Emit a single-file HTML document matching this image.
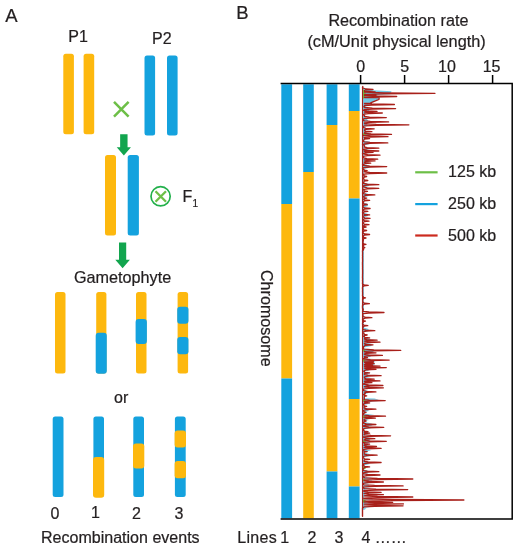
<!DOCTYPE html>
<html><head><meta charset="utf-8"><title>Recombination figure</title>
<style>
html,body{margin:0;padding:0;background:#fff;}
svg{display:block;font-family:"Liberation Sans",Arial,sans-serif;fill:#231f20;}
text{stroke:#231f20;stroke-width:0.22px;}
</style></head>
<body>
<svg width="519" height="550" viewBox="0 0 519 550">
<rect x="0" y="0" width="519" height="550" fill="#fff"/>
<text x="5.2" y="21.6" font-size="18.5">A</text>
<text x="68.3" y="41.6" font-size="16">P1</text>
<text x="152" y="43.7" font-size="16">P2</text>
<rect x="63.3" y="53.8" width="10.6" height="80.4" rx="2.5" ry="2.5" fill="#fdb80e"/>
<rect x="83.6" y="53.8" width="10.6" height="80.4" rx="2.5" ry="2.5" fill="#fdb80e"/>
<rect x="144.5" y="55.6" width="10.6" height="80" rx="2.5" ry="2.5" fill="#14a2de"/>
<rect x="167" y="55.6" width="10.6" height="80" rx="2.5" ry="2.5" fill="#14a2de"/>
<path d="M114.0 101.8 L128.6 116.6 M128.6 101.8 L114.0 116.6" stroke="#6dbf47" stroke-width="2.5" fill="none"/>
<path d="M120.14999999999999 134.2 H127.55 V147.2 H130.95 L123.85 155.6 L116.75 147.2 H120.14999999999999 Z" fill="#12a54e"/>
<rect x="105" y="155" width="11" height="80.4" rx="2.5" ry="2.5" fill="#fdb80e"/>
<rect x="127.7" y="155" width="11.2" height="80.4" rx="2.5" ry="2.5" fill="#14a2de"/>
<circle cx="160.6" cy="196.3" r="9.6" fill="none" stroke="#22b04b" stroke-width="1.7"/>
<path d="M155.5 191.2 L166 201.8 M166 191.2 L155.5 201.8" stroke="#6dbf47" stroke-width="2.3" fill="none"/>
<text x="182.6" y="201.6" font-size="16">F</text>
<text x="192.6" y="207" font-size="10">1</text>
<path d="M119.0 242.4 H126.19999999999999 V259.8 H129.9 L122.6 268.3 L115.3 259.8 H119.0 Z" fill="#12a54e"/>
<text x="74" y="283.1" font-size="16.2">Gametophyte</text>
<rect x="55" y="292" width="10.5" height="81.5" rx="2.5" ry="2.5" fill="#fdb80e"/>
<rect x="96.2" y="292" width="10.2" height="81.5" rx="2.5" ry="2.5" fill="#fdb80e"/>
<rect x="95.7" y="332.7" width="11.1" height="41" rx="3" ry="3" fill="#14a2de"/>
<rect x="136" y="292" width="10.5" height="81.5" rx="2.5" ry="2.5" fill="#fdb80e"/>
<rect x="135.6" y="319" width="11.3" height="25" rx="3" ry="3" fill="#14a2de"/>
<rect x="177.6" y="292" width="10.5" height="81.5" rx="2.5" ry="2.5" fill="#fdb80e"/>
<rect x="177.2" y="306.8" width="11.3" height="16.9" rx="3" ry="3" fill="#14a2de"/>
<rect x="177.2" y="337" width="11.3" height="17.2" rx="3" ry="3" fill="#14a2de"/>
<text x="114" y="402.8" font-size="16">or</text>
<rect x="52.7" y="416.6" width="10.8" height="80.4" rx="2.5" ry="2.5" fill="#14a2de"/>
<rect x="93.4" y="416.6" width="10.6" height="80.4" rx="2.5" ry="2.5" fill="#14a2de"/>
<rect x="93.0" y="457" width="11.2" height="40.7" rx="3" ry="3" fill="#fdb80e"/>
<rect x="133.3" y="416.6" width="10.7" height="80.4" rx="2.5" ry="2.5" fill="#14a2de"/>
<rect x="133.0" y="443.6" width="11.3" height="25" rx="3" ry="3" fill="#fdb80e"/>
<rect x="174.9" y="416.6" width="10.8" height="80.4" rx="2.5" ry="2.5" fill="#14a2de"/>
<rect x="174.6" y="430.5" width="11.4" height="16.9" rx="3" ry="3" fill="#fdb80e"/>
<rect x="174.6" y="460.9" width="11.4" height="17.4" rx="3" ry="3" fill="#fdb80e"/>
<text x="50.6" y="519.1" font-size="16">0</text>
<text x="91" y="517.7" font-size="16">1</text>
<text x="131.9" y="518.5" font-size="16">2</text>
<text x="174.6" y="518.5" font-size="16">3</text>
<text x="41" y="543" font-size="16.05">Recombination events</text>
<text x="236.3" y="19.3" font-size="18.5">B</text>
<text x="398.4" y="26.2" font-size="16.15" text-anchor="middle">Recombination rate</text>
<text x="396.6" y="46.9" font-size="16.3" text-anchor="middle">(cM/Unit physical length)</text>
<text x="360.6" y="72.2" font-size="16" text-anchor="middle">0</text>
<text x="404.6" y="72.2" font-size="16" text-anchor="middle">5</text>
<text x="447" y="72.2" font-size="16" text-anchor="middle">10</text>
<text x="491.6" y="72.2" font-size="16" text-anchor="middle">15</text>
<rect x="281.3" y="84.3" width="10.8" height="119.7" fill="#14a2de"/><rect x="281.3" y="204" width="10.8" height="174.5" fill="#fdb80e"/><rect x="281.3" y="378.5" width="10.8" height="139.79999999999995" fill="#14a2de"/>
<rect x="303.2" y="84.3" width="10.6" height="87.7" fill="#14a2de"/><rect x="303.2" y="172" width="10.6" height="346.29999999999995" fill="#fdb80e"/>
<rect x="326.6" y="84.3" width="10.8" height="40.7" fill="#14a2de"/><rect x="326.6" y="125" width="10.8" height="346.5" fill="#fdb80e"/><rect x="326.6" y="471.5" width="10.8" height="46.799999999999955" fill="#14a2de"/>
<rect x="348.8" y="84.3" width="10.8" height="26.700000000000003" fill="#14a2de"/><rect x="348.8" y="111" width="10.8" height="87.5" fill="#fdb80e"/><rect x="348.8" y="198.5" width="10.8" height="200.5" fill="#14a2de"/><rect x="348.8" y="399" width="10.8" height="87.5" fill="#fdb80e"/><rect x="348.8" y="486.5" width="10.8" height="31.799999999999955" fill="#14a2de"/>
<polygon points="362.4,86.5 362.6,87.8 373.0,90.2 391.5,91.2 390.4,94.2 376.0,95.0 379.5,96.5 378.5,99.6 374.5,101.0 369.4,103.8 365.5,106.9 369.6,109.2 369.0,111.0 365.5,113.2 364.0,115.5 368.4,120.7 364.5,122.0 368.4,125.4 364.0,127.0 367.2,133.4 372.0,134.6 364.0,135.8 363.9,140.4 369.5,141.8 369.5,144.0 363.9,145.4 363.9,148.5 369.5,149.9 369.5,152.1 363.9,153.5 363.9,158.5 369.5,159.9 369.5,162.1 363.9,163.5 363.9,164.1 369.5,165.5 369.5,167.7 363.9,169.1 363.9,182.5 369.0,183.9 369.0,186.1 363.9,187.5 363.9,192.5 368.5,193.9 368.5,196.1 363.9,197.5 363.9,202.5 368.0,203.9 368.0,206.1 363.9,207.5 363.9,212.5 368.0,213.9 368.0,216.1 363.9,217.5 363.9,327.5 368.5,328.9 368.5,331.1 363.9,332.5 363.9,337.5 370.5,338.9 370.5,341.1 363.9,342.5 363.9,342.5 371.5,343.9 371.5,346.1 363.9,347.5 363.9,348.5 373.5,349.9 373.5,352.1 363.9,353.5 363.9,353.5 370.5,354.9 370.5,357.1 363.9,357.5 363.9,358.5 374.0,358.9 363.9,359.0 375.0,360.4 363.9,360.5 374.0,361.1 375.0,361.9 363.9,362.0 363.9,362.5 375.0,362.6 374.5,363.4 363.9,363.5 363.9,364.0 375.0,364.1 373.5,364.9 363.9,365.5 374.5,365.6 363.9,367.0 373.5,367.1 363.9,367.5 363.9,368.5 368.5,368.9 368.5,371.1 363.9,371.5 363.9,372.5 370.5,372.9 363.9,374.5 370.5,375.1 370.9,375.9 363.9,376.5 370.9,378.1 363.9,378.5 363.9,379.5 371.5,379.9 371.5,382.1 363.9,383.5 363.9,383.5 370.0,384.9 370.0,387.1 363.9,388.5 363.9,389.5 368.5,390.9 368.5,393.1 363.9,394.5 363.9,397.0 363.9,398.3 374.5,398.4 379.0,399.7 363.9,400.0 374.5,400.6 370.5,401.4 379.0,401.9 363.9,402.0 363.9,403.3 370.5,403.6 363.9,405.0 363.9,407.5 368.5,408.9 368.5,411.1 363.9,412.5 363.9,413.5 374.5,414.9 363.9,416.5 374.5,417.1 369.0,417.9 363.9,418.5 369.0,420.1 363.9,421.5 363.9,422.0 372.5,423.4 363.9,424.5 372.5,425.6 371.5,425.9 363.9,427.0 371.5,428.1 363.9,429.5 363.9,430.5 368.5,431.9 368.5,434.1 363.9,435.5 363.9,435.5 369.5,436.9 363.9,439.0 369.5,439.1 370.5,440.4 363.9,440.5 370.5,442.6 363.9,444.0 363.9,444.5 370.5,445.9 363.9,447.0 370.5,448.1 371.5,448.4 363.9,449.5 371.5,450.6 363.9,452.0 363.9,452.5 369.5,453.9 369.5,456.1 363.9,457.5 363.9,460.5 369.5,461.9 369.5,464.1 363.9,465.5 363.9,469.5 368.5,470.9 368.5,473.1 363.9,474.5 363.9,476.5 372.1,477.9 363.9,479.0 372.1,480.1 372.1,480.4 363.9,481.0 363.9,481.5 368.5,482.4 372.1,482.6 363.9,484.0 363.9,484.5 368.5,484.6 370.0,485.9 363.9,486.0 363.9,487.0 370.0,488.1 370.5,488.4 363.9,489.5 370.5,490.6 363.9,491.5 363.9,492.0 369.0,492.9 363.9,494.5 369.0,495.1 370.5,495.9 363.9,496.5 363.9,498.0 370.5,498.1 373.2,499.4 363.9,499.5 363.9,500.5 373.2,501.6 373.2,501.9 363.9,503.0 363.9,503.0 373.2,504.1 373.2,504.4 363.9,505.0 363.9,505.5 366.5,506.4 373.2,506.6 363.9,508.0 366.5,508.6 363.9,510.0 362.4,509.0" fill="#74c8e3"/>
<path d="M362.4 88 L365.59999999999997 92.2 L365.59999999999997 95.8 L362.4 100 Z" fill="#6dbf47"/>
<path d="M362.4 133.0 L366.4 133.83999999999997 L366.4 134.56 L362.4 135.39999999999998 Z" fill="#6dbf47"/>
<path d="M362.4 359.0 L365.4 360.05 L365.4 360.95 L362.4 362.0 Z" fill="#6dbf47"/>
<path d="M362.4 415.7 L366.9 416.61 L366.9 417.39 L362.4 418.3 Z" fill="#6dbf47"/>
<path d="M362.4 440.3 L365.9 441.14 L365.9 441.86 L362.4 442.7 Z" fill="#6dbf47"/>
<path d="M362.4 466 L365.9 467.4 L365.9 468.6 L362.4 470 Z" fill="#6dbf47"/>
<path d="M362.4 349.3 L365.4 350.14 L365.4 350.86 L362.4 351.7 Z" fill="#6dbf47"/>
<path d="M362.4 399.3 L365.9 400.14 L365.9 400.86 L362.4 401.7 Z" fill="#6dbf47"/>
<path d="M362.4 478.5 L365.4 479.55 L365.4 480.45 L362.4 481.5 Z" fill="#6dbf47"/>
<path d="M362.4 499 L365.9 500.4 L365.9 501.6 L362.4 503 Z" fill="#6dbf47"/>
<polyline points="362.9,86.0 362.5,87.8 364.5,88.5 365.6,89.0 373.0,89.5 365.6,90.0 364.5,90.5 364.5,91.4 375.1,91.9 364.5,92.2 384.2,92.8 435.0,93.3 384.2,93.8 364.5,94.3 375.9,95.0 364.5,95.5 372.7,96.0 396.7,96.5 372.7,97.0 364.5,97.5 379.2,97.7 379.1,98.6 378.9,99.5 376.6,100.4 374.2,101.3 372.3,102.2 370.3,103.1 364.5,103.5 372.0,104.0 394.4,104.5 372.0,105.0 364.5,105.5 364.5,105.8 363.9,106.7 364.5,107.5 372.4,108.1 395.6,108.6 372.4,109.1 364.5,109.6 363.6,110.3 364.5,110.4 366.8,110.9 377.0,111.4 366.8,111.9 364.5,112.0 368.4,112.5 382.3,113.0 368.4,113.5 364.5,114.0 363.3,114.8 364.7,115.7 364.5,116.5 369.6,117.1 386.3,117.6 369.6,118.1 364.5,118.6 362.6,119.3 362.7,120.2 364.5,120.9 370.3,121.4 388.6,121.9 370.3,122.4 364.5,123.0 364.5,123.8 376.3,124.3 408.9,124.8 376.3,125.3 364.5,125.8 363.3,126.5 363.2,127.4 364.5,127.8 365.9,128.3 374.2,128.8 365.9,129.3 364.5,129.9 365.1,130.1 364.5,130.6 365.2,131.2 371.9,131.7 365.2,132.2 364.5,132.8 364.9,132.8 364.5,133.3 371.1,133.9 391.5,134.4 371.1,134.9 364.5,135.5 362.7,135.5 364.1,135.6 370.1,136.2 388.0,136.7 370.1,137.2 364.1,137.4 364.6,138.0 369.6,138.5 364.6,139.0 364.1,139.6 363.9,140.0 362.7,140.9 364.2,141.8 364.1,141.8 370.0,142.4 387.8,142.9 370.0,143.4 364.1,144.0 362.5,144.5 364.3,145.4 364.7,146.3 364.1,147.0 367.3,147.6 378.8,148.1 367.3,148.6 364.1,149.2 362.7,149.9 364.1,149.9 367.3,150.5 378.8,151.0 364.1,151.3 365.6,151.9 373.0,152.4 365.6,152.9 364.1,153.5 362.5,153.5 364.1,154.0 367.7,154.6 380.0,155.1 367.7,155.6 364.1,156.2 363.9,156.2 363.0,157.1 364.3,158.0 364.1,158.0 367.0,158.6 377.7,159.1 367.0,159.6 364.1,159.8 366.2,160.4 375.0,160.9 366.2,161.4 364.1,162.0 364.1,162.1 364.9,162.7 370.7,163.2 364.9,163.7 364.1,164.2 362.5,164.3 362.7,165.2 364.1,165.5 369.7,166.1 386.7,166.6 369.7,167.1 364.1,167.7 362.7,167.9 362.5,168.8 364.1,169.6 364.1,170.2 367.2,170.7 364.1,171.2 364.1,171.8 364.1,171.9 369.7,172.5 386.7,173.0 369.7,173.5 364.1,174.1 363.2,174.2 363.4,175.1 364.1,175.4 364.1,176.0 366.7,176.5 364.1,177.0 364.1,177.6 363.5,177.8 363.6,178.7 364.1,179.4 364.1,180.0 367.8,180.5 364.1,181.0 364.1,181.6 363.9,182.3 362.8,183.2 364.1,183.5 367.3,184.1 378.8,184.6 367.3,185.1 364.1,185.7 363.4,185.9 363.4,186.8 364.1,187.2 367.3,187.8 378.8,188.3 367.3,188.8 364.1,189.4 363.5,189.5 364.1,190.3 364.1,190.9 367.5,191.4 364.1,191.9 364.1,192.5 362.5,193.1 364.1,193.8 366.1,194.4 374.8,194.9 366.1,195.4 364.1,196.0 363.0,196.7 364.1,197.0 364.1,197.6 366.7,198.1 364.1,198.6 364.1,199.2 363.6,199.3 364.6,199.9 369.6,200.4 364.6,200.9 363.6,201.5 363.6,202.1 362.7,203.0 363.6,203.4 363.8,204.0 367.2,204.5 363.8,205.0 363.6,205.6 362.7,205.7 362.8,206.6 363.6,207.4 364.7,208.0 370.1,208.5 364.7,209.0 363.6,209.6 362.7,210.2 363.6,210.3 364.0,210.9 367.8,211.4 364.0,211.9 363.6,212.5 362.5,212.9 363.0,213.8 363.6,213.8 364.6,214.4 369.6,214.9 364.6,215.4 363.6,216.0 362.6,216.5 363.6,217.2 364.7,217.8 370.1,218.3 364.7,218.8 363.6,219.4 362.9,220.1 363.6,220.1 364.4,220.7 369.0,221.2 364.4,221.7 363.6,222.2 362.7,222.8 363.6,223.6 364.4,224.2 369.0,224.7 364.4,225.2 363.6,225.8 363.6,225.9 363.6,226.5 366.1,227.0 363.6,227.5 363.6,228.1 362.8,228.2 363.2,229.1 363.6,229.4 363.7,230.0 366.7,230.5 363.7,231.0 363.6,231.6 362.6,231.8 362.6,232.7 363.6,233.4 364.6,234.0 369.6,234.5 364.6,235.0 363.6,235.6 363.4,236.3 363.6,236.9 363.6,237.5 366.0,238.0 363.6,238.5 363.6,239.1 363.1,239.9 363.4,240.8 362.8,241.7 362.6,242.6 363.6,243.3 363.6,243.9 366.0,244.4 363.6,244.9 363.6,245.5 362.8,246.2 363.6,246.5 363.6,247.1 364.8,247.6 363.6,248.1 363.6,248.7 362.8,248.9 363.6,249.8 362.5,250.7 362.5,251.6 362.6,252.5 362.6,253.4 362.6,254.3 362.5,255.2 362.6,256.1 362.6,257.0 362.5,257.9 362.6,258.8 362.6,259.7 362.6,260.6 362.6,261.5 362.5,262.4 362.5,263.3 362.5,264.2 362.5,265.1 362.6,266.0 362.5,266.9 362.6,267.8 362.5,268.7 362.6,269.6 362.6,270.5 362.6,271.4 362.6,272.3 362.6,273.2 362.6,274.1 362.5,275.0 362.6,275.9 362.5,276.8 362.5,277.7 362.6,278.6 362.6,279.5 362.5,280.4 362.6,281.3 362.6,282.2 362.5,283.1 362.5,284.0 363.1,284.3 364.1,284.9 368.2,285.4 364.1,285.9 363.1,286.4 362.6,286.7 362.5,287.6 362.5,288.5 362.6,289.4 362.6,290.3 362.5,291.2 362.6,292.1 362.6,293.0 362.6,293.9 362.6,294.8 362.5,295.7 362.9,296.6 363.4,296.8 363.4,297.3 365.5,297.8 363.4,298.3 363.4,298.9 362.6,299.3 362.6,300.2 362.8,301.1 362.7,302.0 363.4,302.6 364.5,303.2 369.4,303.7 364.5,304.2 363.4,304.8 362.5,305.6 362.5,306.5 362.5,307.4 362.5,308.3 363.3,309.2 363.1,310.1 362.5,311.0 363.4,311.4 368.9,312.0 384.0,312.5 368.9,313.0 363.4,313.6 362.7,313.7 362.7,314.6 362.9,315.5 362.9,316.4 363.4,316.6 365.2,317.2 371.9,317.7 365.2,318.2 363.4,318.8 362.7,319.1 362.5,320.0 363.4,320.1 363.4,320.6 365.5,321.1 363.4,321.6 363.4,322.2 362.7,322.7 362.5,323.6 362.6,324.5 363.4,324.6 364.0,325.2 367.8,325.7 364.0,326.2 363.4,326.8 363.1,327.2 362.7,328.1 363.1,329.0 363.4,329.6 366.1,330.2 374.8,330.7 366.1,331.2 363.4,331.8 362.8,332.6 363.0,333.5 364.4,333.9 364.4,334.5 367.2,335.0 364.4,335.5 364.4,336.1 363.4,336.2 364.4,336.8 364.6,337.4 369.6,337.9 364.6,338.4 364.4,338.9 364.4,339.1 366.8,339.7 377.1,340.2 366.8,340.7 364.4,341.1 367.7,341.7 380.0,342.2 367.7,342.7 364.4,343.2 365.1,343.4 364.4,343.8 365.6,344.3 373.0,344.8 365.6,345.3 364.4,345.9 364.5,346.1 362.9,347.0 363.5,347.9 362.6,348.8 364.4,349.2 373.9,349.8 400.8,350.3 373.9,350.8 364.4,351.4 364.9,351.5 364.4,351.8 366.5,352.3 376.0,352.8 366.5,353.3 364.4,353.9 364.3,354.2 364.4,354.3 368.4,354.9 382.4,355.4 368.4,355.9 364.4,356.4 364.4,356.6 364.4,357.1 367.5,357.6 364.4,358.1 364.4,358.7 362.7,358.7 364.4,359.1 370.4,359.6 389.2,360.1 370.4,360.6 364.4,361.2 373.3,361.4 373.3,362.3 364.4,362.6 365.9,363.1 374.2,363.6 365.9,364.1 364.4,364.7 372.5,365.0 364.4,365.1 367.7,365.7 380.0,366.2 364.4,366.6 369.6,367.1 386.3,367.6 369.6,368.1 364.4,368.2 366.5,368.8 376.0,369.3 366.5,369.8 364.4,370.4 365.1,370.4 363.8,371.3 364.4,371.8 364.6,372.3 369.6,372.8 364.6,373.3 364.4,373.9 364.4,374.0 364.4,374.6 368.0,375.2 381.1,375.7 368.0,376.2 364.4,376.8 364.4,377.6 364.4,378.1 365.9,378.7 374.2,379.2 365.9,379.7 364.4,379.8 367.7,380.4 380.0,380.9 367.7,381.4 364.4,381.6 365.2,382.1 371.9,382.6 365.2,383.1 364.4,383.7 362.8,383.9 364.4,384.4 368.5,385.0 382.9,385.5 368.5,386.0 364.4,386.6 364.4,386.6 364.4,386.8 368.7,387.3 383.4,387.8 368.7,388.3 364.4,388.9 363.3,389.3 363.1,390.2 364.4,390.8 366.4,391.4 375.9,391.9 366.4,392.4 364.4,392.9 365.2,393.8 363.3,394.7 364.4,394.8 364.4,395.4 366.7,395.9 364.4,396.4 364.4,396.9 364.2,397.4 364.4,398.3 364.1,399.2 364.1,399.6 369.2,400.1 385.2,400.6 369.2,401.1 364.1,401.7 364.1,401.8 364.6,402.4 369.6,402.9 364.6,403.4 364.1,403.9 362.6,404.6 364.1,405.2 364.1,405.8 366.7,406.3 364.1,406.8 364.1,407.4 364.1,408.1 366.4,408.7 375.9,409.2 366.4,409.7 364.1,410.2 362.8,410.9 364.1,411.3 364.1,411.9 366.1,412.4 364.1,412.9 364.1,413.4 362.9,413.6 362.8,414.5 364.1,415.1 369.3,415.7 385.5,416.2 369.3,416.7 364.1,417.1 366.3,417.6 375.3,418.1 366.3,418.6 364.1,419.2 364.3,419.9 364.1,419.9 364.1,420.5 366.1,421.0 364.1,421.5 364.1,422.1 362.8,422.6 364.1,423.4 366.4,424.0 375.9,424.5 366.4,425.0 364.1,425.6 362.7,426.2 364.1,426.3 368.8,426.9 383.7,427.4 368.8,427.9 364.1,428.4 364.0,428.9 362.6,429.8 364.1,430.6 364.1,431.1 368.0,431.6 364.1,432.1 364.1,432.1 364.6,432.7 369.6,433.2 364.6,433.7 364.1,434.2 364.2,434.3 364.1,434.8 370.9,435.3 390.6,435.8 370.9,436.3 364.1,436.9 363.3,437.0 364.1,437.6 366.1,438.2 374.8,438.7 366.1,439.2 364.1,439.8 364.1,440.2 369.6,440.8 386.3,441.3 369.6,441.8 364.1,442.4 363.3,442.4 364.1,443.1 364.6,443.7 369.6,444.2 364.6,444.7 364.1,445.2 364.1,445.4 366.6,446.0 376.5,446.5 366.6,447.0 364.1,447.3 368.0,447.9 381.1,448.4 368.0,448.9 364.1,449.4 362.7,449.6 362.8,450.5 364.1,450.6 364.1,451.2 367.2,451.7 364.1,452.2 364.1,452.8 364.3,453.2 364.1,454.1 366.8,454.6 377.1,455.1 366.8,455.6 364.1,456.2 362.9,456.8 363.2,457.7 364.1,458.3 364.6,458.9 369.6,459.4 364.6,459.9 364.1,460.4 364.2,461.3 364.1,461.4 368.0,462.0 381.1,462.5 368.0,463.0 364.1,463.6 363.5,464.0 363.8,464.9 362.5,465.8 364.1,465.8 364.6,466.4 369.6,466.9 364.6,467.4 364.1,467.9 363.3,468.5 362.7,469.4 363.5,470.3 364.1,470.6 367.3,471.1 378.8,471.6 367.3,472.1 364.1,472.7 363.4,473.0 362.6,473.9 364.1,473.9 367.7,474.5 380.0,475.0 367.7,475.5 364.1,476.1 362.6,476.6 364.4,477.5 364.1,477.9 377.5,478.5 412.8,479.0 377.5,479.5 364.1,480.1 364.5,480.2 364.1,480.9 368.7,481.5 383.4,482.0 368.7,482.5 364.1,483.1 362.9,483.8 363.8,484.7 364.1,484.8 374.6,485.4 403.1,485.9 374.6,486.4 364.1,486.9 362.8,487.4 364.0,488.3 364.1,488.6 376.0,489.1 407.7,489.6 376.0,490.1 364.1,490.7 363.4,491.0 364.1,491.3 368.0,491.9 381.1,492.4 368.0,492.9 364.1,493.4 364.1,493.6 368.7,494.2 383.4,494.7 368.7,495.2 364.1,495.8 364.1,495.9 377.5,496.5 412.8,497.0 377.5,497.5 364.1,498.1 363.7,498.2 364.1,498.9 392.8,499.5 463.9,500.0 392.8,500.5 364.1,501.1 364.1,501.2 371.5,501.8 392.7,502.3 371.5,502.8 364.1,502.8 374.7,503.4 403.5,503.9 374.7,504.4 364.1,504.8 374.6,505.3 403.1,505.8 374.6,506.3 364.1,506.9 363.6,507.2 362.5,508.1 362.5,509.0 362.5,509.9 362.5,510.8 362.5,511.7 362.5,512.6 362.5,513.5 362.5,514.4 362.5,515.3 362.5,516.2 362.9,516.6" fill="none" stroke="#a8201a" stroke-width="1.3" stroke-linejoin="round"/>
<path d="M362.5 87 V516.6" stroke="#a8201a" stroke-width="1.1"/>
<path d="M280.6 83.5 H512.2 V518.9 H280.6" fill="none" stroke="#000" stroke-width="1.5"/>
<path d="M360.6 75 V83.5" stroke="#000" stroke-width="1.5"/>
<path d="M404.6 75 V83.5" stroke="#000" stroke-width="1.5"/>
<path d="M448.6 75 V83.5" stroke="#000" stroke-width="1.5"/>
<path d="M492.6 75 V83.5" stroke="#000" stroke-width="1.5"/>
<path d="M415.2 172.3 H437.6" stroke="#6dbf47" stroke-width="2.2"/>
<text x="448.1" y="176.5" font-size="16">125 kb</text>
<path d="M415.2 204.1 H437.6" stroke="#14a2de" stroke-width="2.2"/>
<text x="448.1" y="208.9" font-size="16">250 kb</text>
<path d="M415.2 235.5 H437.6" stroke="#cc2a1f" stroke-width="2.2"/>
<text x="448.1" y="241.0" font-size="16">500 kb</text>
<text transform="translate(260.6 270) rotate(90)" font-size="16.1">Chromosome</text>
<text x="237.2" y="543" font-size="16" letter-spacing="0.3">Lines</text>
<text x="280.3" y="543" font-size="16">1</text>
<text x="307.6" y="543" font-size="16">2</text>
<text x="334.4" y="543" font-size="16">3</text>
<text x="361.4" y="543" font-size="16">4 ……</text>
</svg>
</body></html>
